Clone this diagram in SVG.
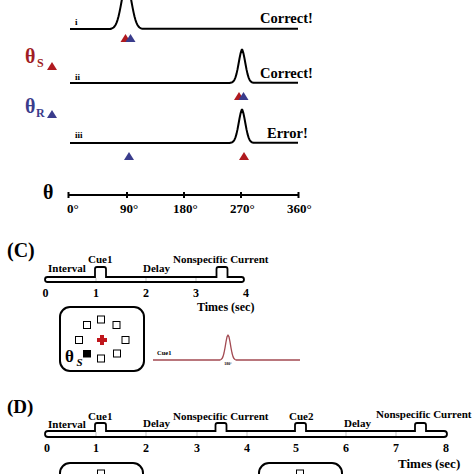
<svg xmlns="http://www.w3.org/2000/svg" width="474" height="474" viewBox="0 0 474 474">
<style>
text{font-family:"Liberation Serif","Times New Roman",serif;font-weight:bold;fill:#000}
.tr{fill:none;stroke:#000;stroke-width:2;stroke-linejoin:round}
.red{fill:#b01a1f}
.blue{fill:#3a3c8c}
.lbl{font-size:11px}
.num{font-size:12px}
.bar{fill:#fff;stroke:#000;stroke-width:1.8}
.pulse{fill:#fff;stroke:#000;stroke-width:1.8;stroke-linejoin:round}
.tick{stroke:#999;stroke-width:0.6}
.sq{fill:#fff;stroke:#000;stroke-width:1}
.box{fill:#fff;stroke:#000;stroke-width:2}
</style>
<rect width="474" height="474" fill="#fff"/>

<g id="traces">
<path class="tr" d="M70,29 H110.5 L111.5,28.5 L112.5,28.1 L113.5,27.5 L114.5,26.5 L115.5,25 L116.5,22.9 L117.5,20.1 L118.5,16.5 L119.5,12.1 L120.5,7.1 L121.5,1.7 L122.5,-3.7 L123.5,-8.6 L124.5,-12.5 L125.5,-15.1 L126.5,-16 L127.5,-15.1 L128.5,-12.5 L129.5,-8.6 L130.5,-3.7 L131.5,1.7 L132.5,7.1 L133.5,12.1 L134.5,16.5 L135.5,20.1 L136.5,22.9 L137.5,25 L138.5,26.5 L139.5,27.5 L140.5,28.1 L141.5,28.5 L142.5,28.7 H298"/>
<path class="tr" d="M70,83 H229.5 L230.5,82.8 L231.5,82.6 L232.5,82.1 L233.5,81.2 L234.5,79.7 L235.5,77.3 L236.5,73.9 L237.5,69.4 L238.5,64 L239.5,58.5 L240.5,53.6 L241.5,50.2 L242,49.5 L242.5,50.2 L243.5,53.6 L244.5,58.5 L245.5,64 L246.5,69.4 L247.5,73.9 L248.5,77.3 L249.5,79.7 L250.5,81.2 L251.5,82.1 L252.5,82.6 L253.5,82.8 H298"/>
<path class="tr" d="M70,143 H229.5 L230.5,142.8 L231.5,142.6 L232.5,142.1 L233.5,141.2 L234.5,139.7 L235.5,137.3 L236.5,133.9 L237.5,129.4 L238.5,124 L239.5,118.5 L240.5,113.6 L241.5,110.2 L242,109.5 L242.5,110.2 L243.5,113.6 L244.5,118.5 L245.5,124 L246.5,129.4 L247.5,133.9 L248.5,137.3 L249.5,139.7 L250.5,141.2 L251.5,142.1 L252.5,142.6 L253.5,142.8 H298"/>
<text x="75" y="25" style="font-size:9px">i</text>
<text x="75" y="80" style="font-size:9px">ii</text>
<text x="75" y="138" style="font-size:9px">iii</text>
<text x="260" y="22.5" style="font-size:14.5px">Correct!</text>
<text x="260" y="78" style="font-size:14.5px">Correct!</text>
<text x="267" y="138" style="font-size:14.5px">Error!</text>
</g>

<g id="markers">
<polygon class="red" points="120.5,42 130.5,42 125.5,34"/>
<polygon class="blue" points="125.5,42 135.5,42 130.5,34"/>
<polygon class="red" points="234,100 244,100 239,92"/>
<polygon class="blue" points="238.5,100 248.5,100 243.5,92"/>
<polygon class="blue" points="124,160 134,160 129,152"/>
<polygon class="red" points="239,160 249,160 244,152"/>
</g>

<g id="legend">
<text x="25" y="63" style="font-size:20px;fill:#a01c24">θ<tspan x="37" y="67" style="font-size:12px">S</tspan></text>
<polygon class="red" points="47,70 57,70 52,62"/>
<text x="25" y="113" style="font-size:20px;fill:#3a3c8c">θ<tspan x="36" y="117" style="font-size:12px">R</tspan></text>
<polygon class="blue" points="47,118 57,118 52,110"/>
</g>

<g id="theta-axis">
<text x="43" y="199" style="font-size:20px">θ</text>
<line x1="68" y1="195" x2="299" y2="195" stroke="#000" stroke-width="2"/>
<g stroke="#000" stroke-width="2">
<line x1="68.5" y1="192" x2="68.5" y2="198"/>
<line x1="127" y1="192" x2="127" y2="198"/>
<line x1="184" y1="192" x2="184" y2="198"/>
<line x1="241" y1="192" x2="241" y2="198"/>
<line x1="298.5" y1="192" x2="298.5" y2="198"/>
</g>
<text x="67" y="213" style="font-size:13px">0°</text>
<text x="120" y="213" style="font-size:13px">90°</text>
<text x="173" y="213" style="font-size:13px">180°</text>
<text x="230" y="213" style="font-size:13px">270°</text>
<text x="287" y="213" style="font-size:13px">360°</text>
</g>

<g id="panel-C">
<text x="7" y="257" style="font-size:20px">(C)</text>
<rect class="bar" x="45" y="277" width="199" height="5" rx="2.5"/>
<g class="tick"><line x1="96" y1="278" x2="96" y2="281"/><line x1="146" y1="278" x2="146" y2="281"/><line x1="196" y1="278" x2="196" y2="281"/></g>
<path class="pulse" d="M95,278 V269 Q95,267 97,267 H104 Q106,267 106,269 V278"/>
<path class="pulse" d="M216.5,278 V269 Q216.5,267 218.5,267 H225.5 Q227.5,267 227.5,269 V278"/>
<text class="lbl" x="48" y="272">Interval</text>
<text class="lbl" x="88" y="263">Cue1</text>
<text class="lbl" x="143" y="272">Delay</text>
<text class="lbl" x="173" y="263">Nonspecific Current</text>
<g class="num" text-anchor="middle">
<text x="45.5" y="297">0</text><text x="96" y="297">1</text><text x="146" y="297">2</text><text x="196" y="297">3</text><text x="246" y="297">4</text>
</g>
<text x="197" y="311" style="font-size:12px">Times (sec)</text>
</g>

<g id="display-C">
<rect class="box" x="60" y="307" width="84" height="64" rx="10"/>
<rect class="sq" x="83.5" y="321.5" width="7" height="7"/>
<rect class="sq" x="97.5" y="316" width="7" height="7"/>
<rect class="sq" x="113" y="321.5" width="7" height="7"/>
<rect class="sq" x="75.5" y="336.5" width="7" height="7"/>
<rect class="sq" x="122" y="336.5" width="7" height="7"/>
<rect x="83" y="350" width="8" height="7.5" fill="#000"/>
<rect class="sq" x="97.5" y="355" width="7" height="7"/>
<rect class="sq" x="113.5" y="350" width="7" height="7"/>
<rect x="97" y="338" width="10" height="4" fill="#c0161c"/>
<rect x="100" y="335" width="4" height="10" fill="#c0161c"/>
<text x="65" y="362" style="font-size:17px">θ<tspan x="76.5" y="366" style="font-size:11px;font-style:italic">S</tspan></text>
</g>

<g id="cue1-profile">
<path d="M153,360 H220 L221,359.5 L222,358.6 L223,356.6 L224,353 L225,347.8 L226,341.8 L227,336.9 L228,335 L229,336.9 L230,341.8 L231,347.8 L232,353 L233,356.6 L234,358.6 L235,359.5 L236,360 H300" fill="none" stroke="#a34a52" stroke-width="1.3" stroke-linejoin="round"/>
<text x="157" y="355" style="font-size:6.5px">Cue1</text>
<text x="228" y="364.5" text-anchor="middle" style="font-size:4px">180°</text>
</g>

<g id="panel-D">
<text x="7" y="413" style="font-size:19px">(D)</text>
<rect class="bar" x="45" y="431" width="402" height="6" rx="3"/>
<g class="tick"><line x1="96" y1="432" x2="96" y2="436"/><line x1="146" y1="432" x2="146" y2="436"/><line x1="197" y1="432" x2="197" y2="436"/><line x1="247" y1="432" x2="247" y2="436"/><line x1="346" y1="432" x2="346" y2="436"/><line x1="396" y1="432" x2="396" y2="436"/></g>
<path class="pulse" d="M95,432 V425 Q95,423 97,423 H104 Q106,423 106,425 V432"/>
<path class="pulse" d="M215.5,432 V425 Q215.5,423 217.5,423 H224.5 Q226.5,423 226.5,425 V432"/>
<path class="pulse" d="M295,432 V425 Q295,423 297,423 H304 Q306,423 306,425 V432"/>
<path class="pulse" d="M415,432 V425 Q415,423 417,423 H424 Q426,423 426,425 V432"/>
<text class="lbl" x="48" y="428">Interval</text>
<text class="lbl" x="88" y="420">Cue1</text>
<text class="lbl" x="143" y="427">Delay</text>
<text class="lbl" x="173" y="420">Nonspecific Current</text>
<text class="lbl" x="289" y="420">Cue2</text>
<text class="lbl" x="344" y="427">Delay</text>
<text class="lbl" x="376" y="418">Nonspecific Current</text>
<g class="num" text-anchor="middle">
<text x="47" y="452">0</text><text x="96" y="452">1</text><text x="146" y="452">2</text><text x="197" y="452">3</text><text x="247" y="452">4</text><text x="296" y="452">5</text><text x="346" y="452">6</text><text x="396" y="452">7</text><text x="446" y="452">8</text>
</g>
<text x="398" y="468" style="font-size:13px">Times (sec)</text>
</g>

<g id="display-D1">
<rect class="box" x="60" y="463" width="83" height="40" rx="10"/>
<rect class="sq" x="97.5" y="470" width="7" height="7"/>
</g>
<g id="display-D2">
<rect class="box" x="259" y="463" width="83" height="40" rx="10"/>
<rect class="sq" x="296.5" y="470" width="7" height="7"/>
</g>
</svg>
